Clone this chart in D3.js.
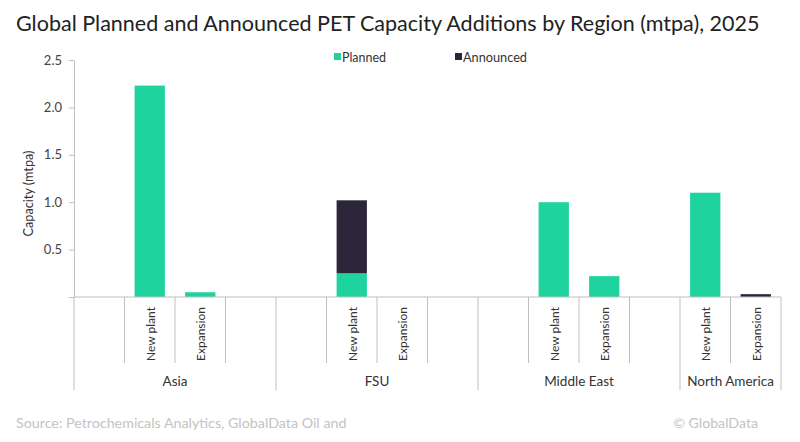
<!DOCTYPE html>
<html>
<head>
<meta charset="utf-8">
<script src="https://cdn.jsdelivr.net/npm/d3@7"></script>
<style>
  body { margin: 0; background: #fff; }
  svg { display: block; font-family: Lato, 'Open Sans', sans-serif; }
</style>
</head>
<body>
<svg id="chart" width="800" height="442"></svg>
<script>
// slots along the x axis (Excel-style multi-level categories, with blank fillers)
const slotRegion = ['Asia', 'Asia', 'Asia', 'Asia', 'FSU', 'FSU', 'FSU', 'FSU',
  'Middle East', 'Middle East', 'Middle East', 'Middle East', 'North America', 'North America'];
const slotType = ['', 'New plant', 'Expansion', '', '', 'New plant', 'Expansion', '',
  '', 'New plant', 'Expansion', '', 'New plant', 'Expansion'];
const planned = [0, 2.23, 0.05, 0, 0, 0.25, 0, 0, 0, 1.0, 0.22, 0, 1.1, 0];
const announced = [0, 0, 0, 0, 0, 0.77, 0, 0, 0, 0, 0, 0, 0, 0.03];
const regions = ['Asia', 'FSU', 'Middle East', 'North America'];
const yTicks = [0.5, 1.0, 1.5, 2.0, 2.5];

const COL_PLANNED = '#1fd39e';
const COL_ANNOUNCED = '#2b2639';
const AXIS = '#bfbfbf';

const svg = d3.select('#chart');
const m = { left: 74, right: 781, top: 60, bottom: 297 };

const x = d3.scaleBand().domain(d3.range(slotType.length)).range([m.left, m.right]).padding(0);
const y = d3.scaleLinear().domain([0, 2.5]).range([m.bottom, m.top]);

// fit a text element to a target width by adjusting font size
function fit(sel, w) {
  const len = sel.node().getComputedTextLength();
  const fs = parseFloat(sel.style('font-size'));
  sel.style('font-size', (fs * w / len) + 'px');
}

// title
const title = svg.append('text').attr('x', 16).attr('y', 31)
  .attr('fill', '#222').style('font-size', '20px')
  .text('Global Planned and Announced PET Capacity Additions by Region (mtpa), 2025');
fit(title, 744);

// legend
const legend = [{ name: 'Planned', color: COL_PLANNED, x: 334 }, { name: 'Announced', color: COL_ANNOUNCED, x: 455 }];
legend.forEach(l => {
  svg.append('rect').attr('x', l.x).attr('y', 53).attr('width', 7).attr('height', 7).attr('fill', l.color);
  const t = svg.append('text').attr('x', l.x + 8).attr('y', 61.5).attr('fill', '#333')
    .style('font-size', '13px').text(l.name);
  fit(t, l.name === 'Planned' ? 44 : 64);
});

// y axis
const yAxis = svg.append('g').attr('transform', `translate(${m.left},0)`)
  .call(d3.axisLeft(y).tickValues([0, ...yTicks]).tickSize(5).tickSizeOuter(0)
    .tickFormat(d => d === 0 ? '' : d3.format('.1f')(d)));
yAxis.select('.domain').attr('stroke', AXIS);
yAxis.selectAll('.tick line').attr('stroke', AXIS);
yAxis.selectAll('.tick text').attr('fill', '#444').attr('x', -12)
  .style('font-size', '13px').style('font-family', 'Lato, sans-serif');

const yl = svg.append('text')
  .attr('transform', `translate(33,${(m.top + m.bottom) / 2 + 15}) rotate(-90)`)
  .attr('text-anchor', 'middle').attr('fill', '#333').style('font-size', '13px')
  .text('Capacity (mtpa)');
fit(yl, 86);

// bars
const bw = x.bandwidth() * 0.6;
const bars = svg.append('g');
planned.forEach((v, i) => {
  if (v <= 0) return;
  bars.append('rect').attr('x', x(i) + (x.bandwidth() - bw) / 2).attr('width', bw)
    .attr('y', y(v)).attr('height', y(0) - y(v)).attr('fill', COL_PLANNED);
});
announced.forEach((v, i) => {
  if (v <= 0) return;
  const base = planned[i];
  bars.append('rect').attr('x', x(i) + (x.bandwidth() - bw) / 2).attr('width', bw)
    .attr('y', y(base + v)).attr('height', y(base) - y(base + v)).attr('fill', COL_ANNOUNCED);
});

// x axis: baseline, inner ticks, group ticks
const xa = svg.append('g');
xa.append('line').attr('x1', m.left).attr('x2', m.right).attr('y1', m.bottom).attr('y2', m.bottom).attr('stroke', AXIS);
const bounds = d3.range(slotType.length + 1).map(i => i < slotType.length ? x(i) : m.right);
bounds.forEach((bx, i) => {
  const groupEdge = i === 0 || i === slotType.length || slotRegion[i] !== slotRegion[i - 1];
  xa.append('line').attr('x1', bx).attr('x2', bx).attr('y1', m.bottom)
    .attr('y2', groupEdge ? 390 : 363).attr('stroke', AXIS);
});

slotType.forEach((t, i) => {
  if (!t) return;
  const cx = x(i) + x.bandwidth() / 2;
  const lt = xa.append('text').attr('transform', `translate(${cx + 5},361) rotate(-90)`)
    .attr('text-anchor', 'start').attr('fill', '#333').style('font-size', '14px').text(t);
  fit(lt, 54);
});

regions.forEach(r => {
  const idx = slotRegion.map((s, i) => s === r ? i : -1).filter(i => i >= 0);
  const x0 = x(idx[0]), x1 = x(idx[idx.length - 1]) + x.bandwidth();
  xa.append('text').attr('x', (x0 + x1) / 2).attr('y', 386).attr('text-anchor', 'middle')
    .attr('fill', '#333').style('font-size', '13.5px').text(r);
});

// footer
const src = svg.append('text').attr('x', 16).attr('y', 428).attr('fill', '#c3c3c3')
  .style('font-size', '13px').text('Source: Petrochemicals Analytics, GlobalData Oil and');
fit(src, 331);
const cp = svg.append('text').attr('x', 758).attr('y', 428).attr('text-anchor', 'end')
  .attr('fill', '#c3c3c3').style('font-size', '13px').text('© GlobalData');
fit(cp, 85);
</script>
</body>
</html>
